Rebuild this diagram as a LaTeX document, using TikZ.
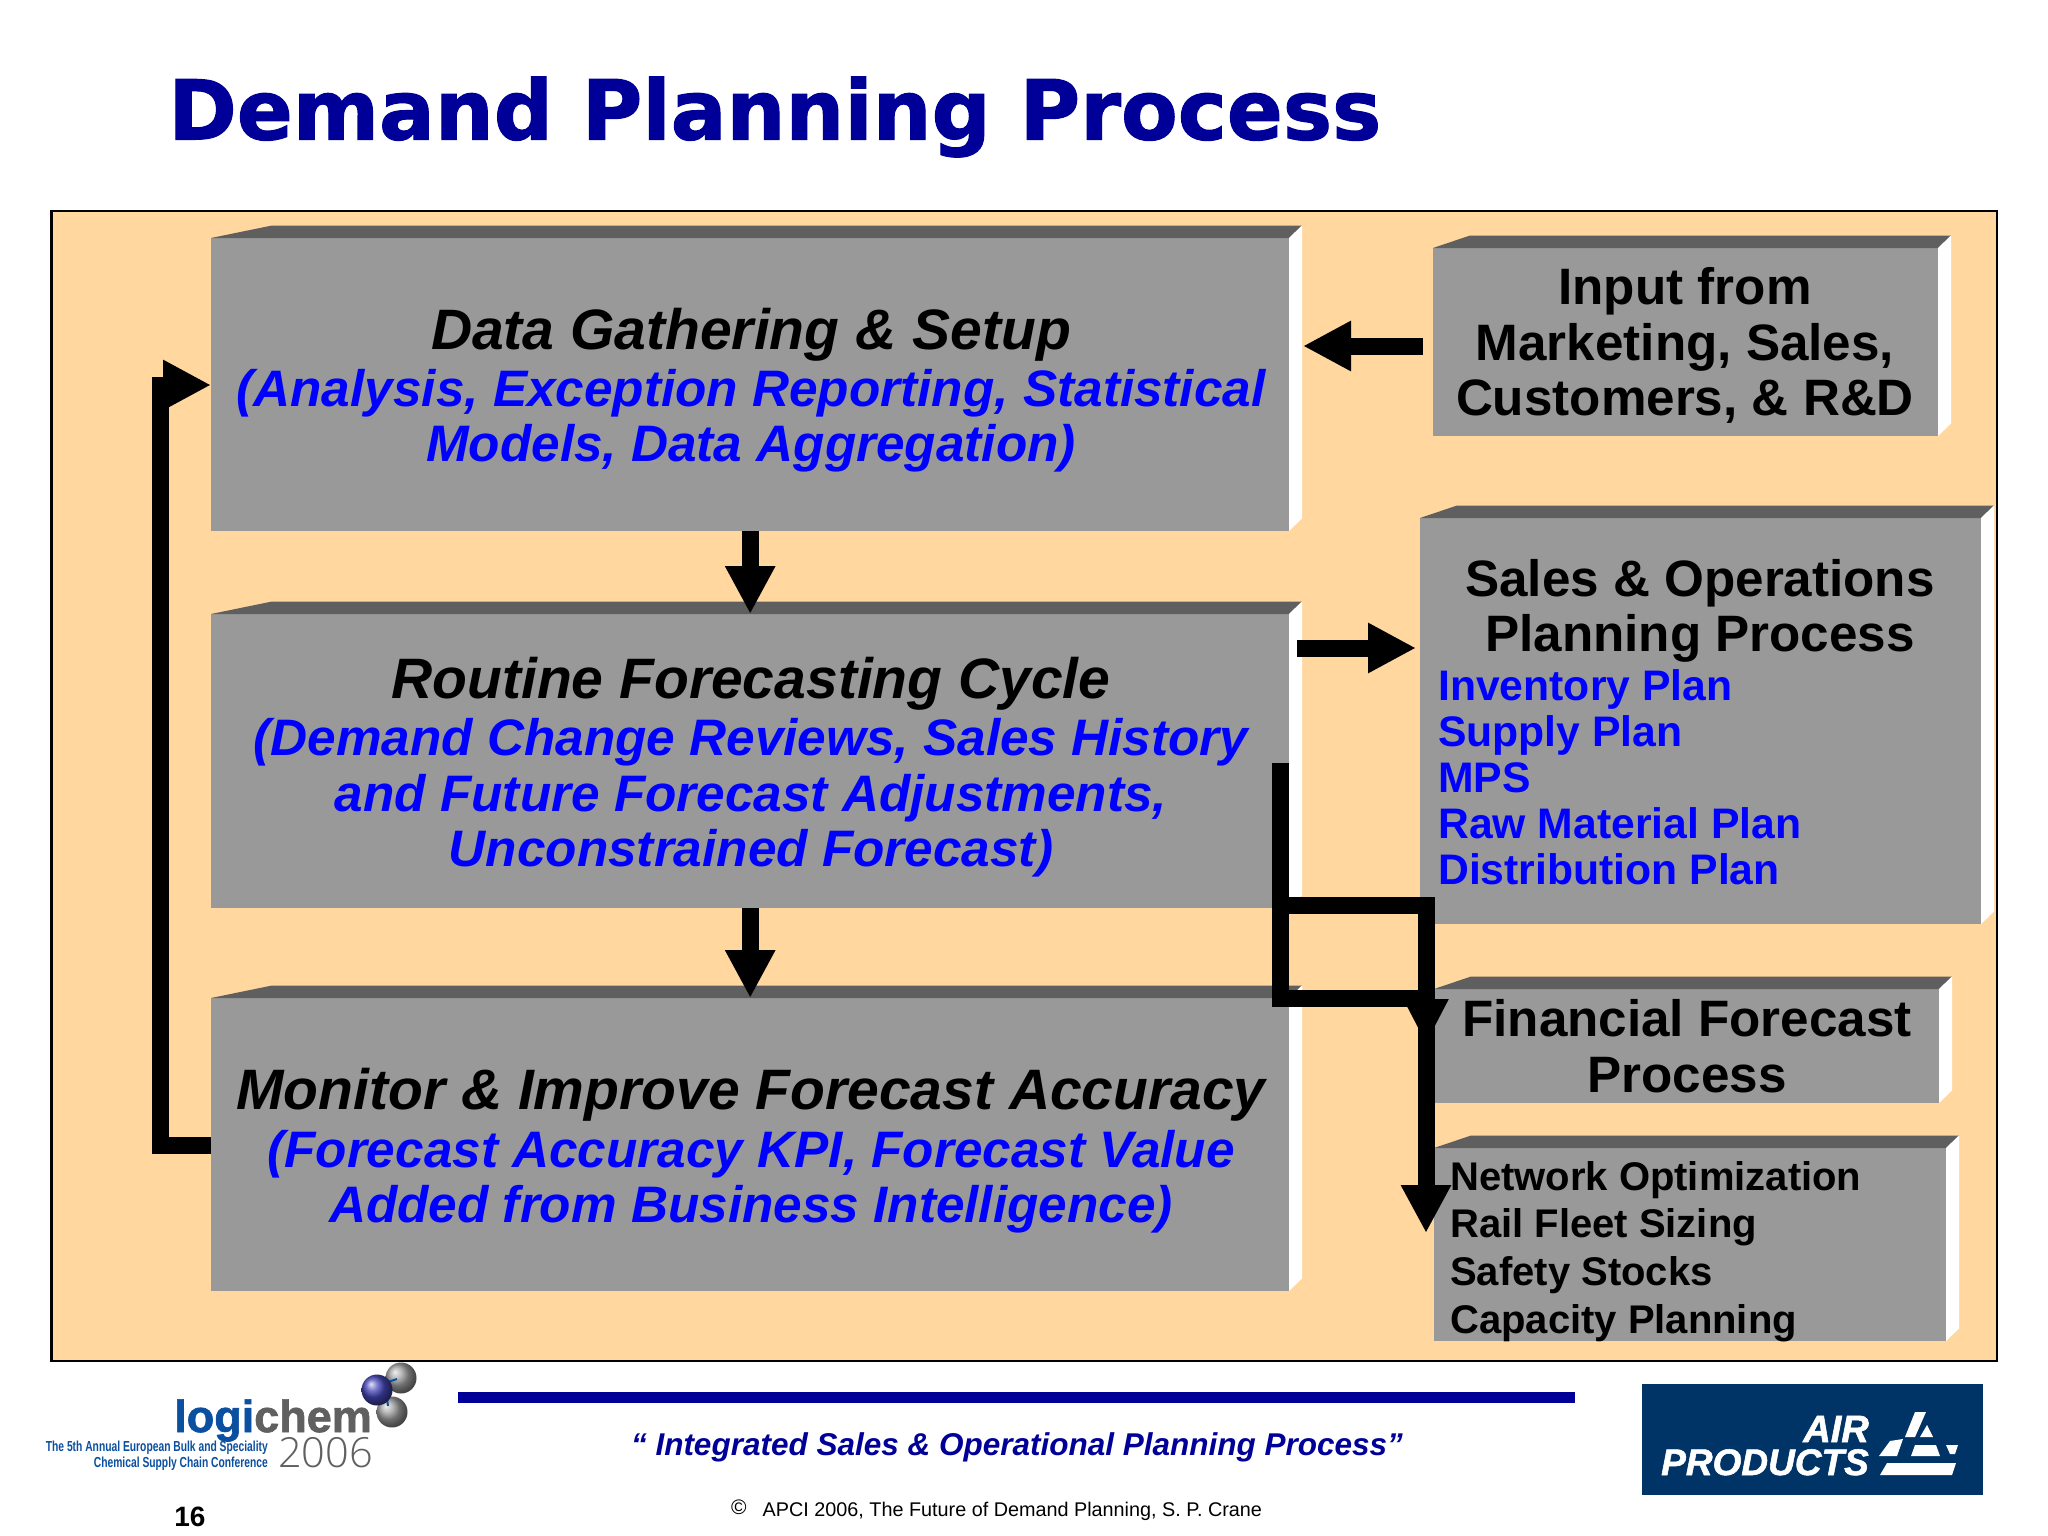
\documentclass[tikz,border=0pt]{standalone}
\usepackage{fontspec}
\setmainfont{Liberation Sans}
\newfontfamily\titlefont[FakeBold=1.3]{DejaVu Sans}
\newfontfamily\thinfont{Open Sans Light}
\newfontfamily\narrowfont[FakeStretch=0.71]{Liberation Sans}
\newfontfamily\heavyfont[FakeBold=1.5]{Liberation Sans}
\usetikzlibrary{arrows.meta,shadings}
\definecolor{panelc}{HTML}{FFD79F}
\definecolor{frontc}{HTML}{999999}
\definecolor{topc}{HTML}{5F5F5F}
\definecolor{navy}{HTML}{000099}
\definecolor{bluet}{HTML}{0000FF}
\definecolor{logiblue}{HTML}{0B4FA0}
\definecolor{logigray}{HTML}{606060}
\definecolor{apblue}{HTML}{003366}
\newcommand{\blackhead}[1]{{\fontsize{57}{56}\selectfont #1}}
\tikzset{
  frontbox/.style={fill=frontc,draw=none,inner sep=0pt,anchor=north west},
  heavy/.style={line width=17pt,draw=black,line join=miter,line cap=butt},
  tipped/.style={heavy,-{Triangle[length=48pt,width=47pt]}},
  headline/.style={inner sep=0pt,align=center,text=bluet,font=\bfseries\itshape\fontsize{51.3}{55.5}\selectfont},
  sidehead/.style={inner sep=0pt,align=center,font=\bfseries\fontsize{51.2}{55.5}\selectfont},
  sublist/.style={inner sep=0pt,align=left,font=\bfseries\fontsize{42.7}{46}\selectfont},
}
% name, x0, y0, x1, y1, slant width
\newcommand{\solidbox}[6]{%
  \node[frontbox,minimum width=#4pt-#2pt,minimum height=#5pt-#3pt] (#1) at (#2,#3) {};
  \fill[topc] (#2,#3) -- (#2+#6,#3-12.5) -- (#4+13,#3-12.5) -- (#4,#3) -- cycle;
  \fill[white] (#4,#3) -- (#4+13,#3-12.5) -- (#4+13,#5-12.5) -- (#4,#5) -- cycle;
}
\begin{document}
\begin{tikzpicture}[x=1pt,y=-1pt]
\useasboundingbox (0,0) rectangle (2048,1536);
\fill[white] (0,0) rectangle (2048,1536);
\node[inner sep=0pt,anchor=west,text=navy,font=\titlefont\bfseries\fontsize{82.7}{90}\selectfont] (title) at (168,117) {Demand Planning Process};
\node[fill=panelc,draw=black,line width=2.5pt,inner sep=0pt,anchor=north west,minimum width=1945.5pt,minimum height=1150pt] (panel) at (50,209.5) {};

\solidbox{dg}{211}{238}{1289}{531}{61}
\solidbox{rf}{211}{614}{1289}{908}{61}
\solidbox{mi}{211}{998}{1289}{1291}{61}
\solidbox{inp}{1433}{248}{1938}{436}{37}
\solidbox{sop}{1420}{518}{1981}{924}{37}
\solidbox{ff}{1434}{989}{1939}{1103}{37}
\solidbox{no}{1434}{1148}{1946}{1341}{37}

% connectors
\coordinate (inpout) at (1423,346);
\coordinate (dgin) at (1303,346);
\coordinate (rfout) at (1297,648);
\coordinate (sopin) at (1416,648);
\coordinate (rfdown) at (1280,763);
\coordinate (fftip) at (1426,1044);
\coordinate (notip) at (1426,1233);
\coordinate (miout) at (211,1145);
\coordinate (dgfb) at (211,385);
\draw[tipped] (dg.south) -- (rf.north);
\draw[tipped] (rf.south) -- (mi.north);
\draw[tipped] (inpout) -- (dgin);
\draw[tipped] (rfout) -- (sopin);
\draw[heavy,-{Triangle[length=45pt,width=42pt]}] (rfdown) |- (1426,905) -- (fftip);
\draw[tipped] (rfdown) |- (1426,998) -- (notip);
\draw[tipped] (miout) -- (160,1145) -- (160,385) -- (dgfb);

% texts
\node[headline] (t1) at (751,390.5) {\blackhead{\textcolor{black}{Data Gathering \& Setup}}\\[1pt]
(Analysis, Exception Reporting, Statistical\\Models, Data Aggregation)};
\node[headline] (t2) at (751,767) {\blackhead{\textcolor{black}{Routine Forecasting Cycle}}\\[2pt]
(Demand Change Reviews, Sales History\\and Future Forecast Adjustments,\\Unconstrained Forecast)};
\node[headline] (t3) at (751,1151) {\blackhead{\textcolor{black}{Monitor \& Improve Forecast Accuracy}}\\[2pt]
(Forecast Accuracy KPI, Forecast Value\\Added from Business Intelligence)};
\node[sidehead] (t4) at (1685,345.5) {Input from\\Marketing, Sales,\\Customers, \& R\&D};
\node[sidehead] (t5) at (1700,611) {Sales \& Operations\\Planning Process};
\node[sublist,text=bluet,anchor=north west] (t6) at (1438,669) {Inventory Plan\\Supply Plan\\MPS\\Raw Material Plan\\Distribution Plan};
\node[sidehead] (t7) at (1687,1046) {Financial Forecast\\Process};
\node[sublist,anchor=north west,font=\bfseries\fontsize{40}{47.7}\selectfont] (t8) at (1450,1161) {Network Optimization\\Rail Fleet Sizing\\Safety Stocks\\Capacity Planning};

% footer
\node[fill=navy,inner sep=0pt,minimum width=1117pt,minimum height=11pt,anchor=north west] (rule) at (458,1392) {};
\node[inner sep=0pt,text=navy,font=\bfseries\itshape\fontsize{31.5}{36}\selectfont] (quote) at (1017,1447) {“ Integrated Sales \& Operational Planning Process”};
\node[inner sep=0pt,anchor=west,font=\fontsize{19.8}{24}\selectfont] (copy) at (731,1510) {\raisebox{2pt}{\fontsize{21}{24}\selectfont©}\hspace{16pt}APCI 2006, The Future of Demand Planning, S. P. Crane};
\node[inner sep=0pt,font=\bfseries\fontsize{28}{30}\selectfont] (page) at (190,1517) {16};

% logichem
\shade[ball color=gray!75] (401,1378) circle (15.5);
\shade[ball color=gray!75] (392,1412) circle (15.5);
\draw[logiblue,line width=2pt] (388,1382) -- (397,1379) (387,1398) -- (388,1406);
\shade[ball color=blue!45!gray] (377,1390) circle (15.5);
\node[inner sep=0pt,anchor=base east,font=\heavyfont\bfseries\fontsize{45}{50}\selectfont] (logo) at (372,1432) {\textcolor{logiblue}{logi}\textcolor{logigray}{chem}};
\node[inner sep=0pt,anchor=base east,text=logigray,font=\thinfont\fontsize{41.5}{48}\selectfont] (year) at (373,1467) {2006};
\node[inner sep=0pt,anchor=north east,align=right,text=logiblue,font=\narrowfont\bfseries\fontsize{14.5}{15.5}\selectfont] (conf) at (268,1441) {The 5th Annual European Bulk and Speciality\\Chemical Supply Chain Conference};

% air products
\node[fill=apblue,inner sep=0pt,minimum width=341pt,minimum height=111pt,anchor=north west] (ap) at (1642,1384) {};
\node[inner sep=0pt,anchor=base east,text=white,font=\heavyfont\bfseries\itshape\fontsize{38}{44}\selectfont] (apair) at (1869,1442) {AIR};
\node[inner sep=0pt,anchor=base east,text=white,font=\heavyfont\bfseries\itshape\fontsize{37}{44}\selectfont] (appr) at (1869,1475) {PRODUCTS};
\fill[white] (1905,1437) -- (1915,1412) -- (1926,1412) -- (1915,1437) -- cycle;
\fill[white] (1920,1437) -- (1927,1425) -- (1933,1437) -- cycle;
\fill[white] (1915,1445) -- (1936,1445) -- (1940,1456) -- (1911,1456) -- cycle;
\fill[white] (1879,1456) -- (1890,1441) -- (1903,1439) -- (1897,1456) -- cycle;
\fill[white] (1880,1475) -- (1952,1475) -- (1956,1463) -- (1887,1463) -- cycle;
\fill[white] (1946,1445) -- (1958,1445) -- (1955,1454) -- (1950,1454) -- cycle;
\end{tikzpicture}
\end{document}
